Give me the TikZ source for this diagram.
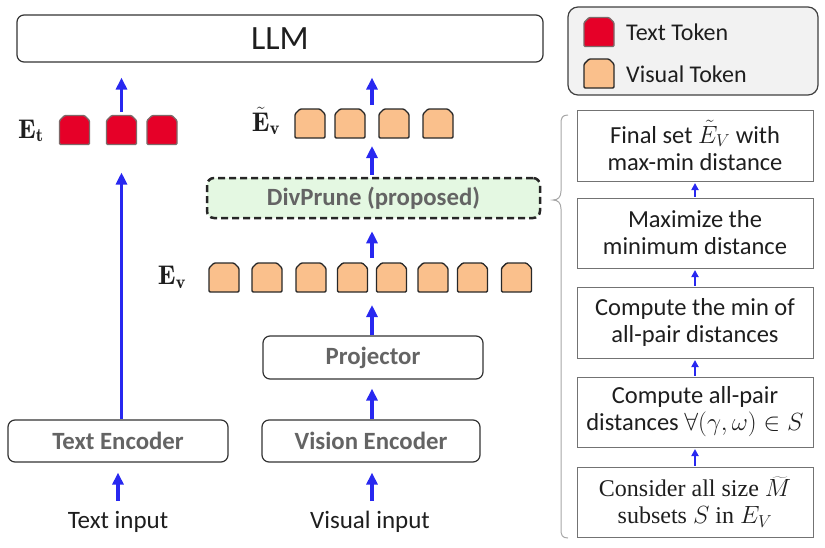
\documentclass[tikz,border=0pt]{standalone}
\usepackage{fontspec}
\newfontfamily\carl{Carlito}
\newfontfamily\lserif{Liberation Serif}
\usetikzlibrary{arrows.meta,calc}
\definecolor{arrblue}{RGB}{40,40,240}
\definecolor{tokred}{RGB}{230,0,40}
\definecolor{tokredb}{RGB}{125,105,105}
\definecolor{tokor}{RGB}{250,192,140}
\definecolor{tokorb}{RGB}{40,40,40}
\definecolor{greenfill}{RGB}{228,248,226}
\definecolor{legfill}{RGB}{242,242,242}
\definecolor{boldgray}{RGB}{100,100,100}
\definecolor{txt}{RGB}{30,30,30}
% token: name, x, y, colour style
\newcommand\tokn[4]{%
  \node[tokbox] (#1) at (#2,#3) {};
  \filldraw[#4, line width=1.4pt, rounded corners=1.2pt]
    (#1.south west) -- ([yshift=-5pt]#1.north west) -- ([xshift=5pt]#1.north west)
    -- ([xshift=-5pt]#1.north east) -- ([yshift=-5pt]#1.north east) -- (#1.south east) -- cycle;}
\begin{document}
\begin{tikzpicture}[x=1pt,y=-1pt,
  every node/.style={inner sep=0pt, text=txt},
  tokbox/.style={rectangle, draw=none, outer sep=0pt, minimum width=30pt, minimum height=29pt},
  redtok/.style={fill=tokred, draw=tokredb},
  ortok/.style={fill=tokor, draw=tokorb},
  mainbox/.style={draw=black!80, line width=1.2pt, rounded corners=7pt, fill=white},
  boldlbl/.style={font=\carl\bfseries\fontsize{24.8}{28}\selectfont, text=boldgray},
  stepbox/.style={draw=black!55, line width=1pt, minimum width=236pt, align=center,
    font=\carl\fontsize{24.5}{27}\selectfont},
  plain/.style={font=\carl\fontsize{25}{28}\selectfont},
  elbl/.style={font=\fontsize{27}{30}\selectfont},
  barr/.style={draw=arrblue, line width=3.5pt, -{Triangle[width=11pt,length=12pt]}},
  sarr/.style={draw=arrblue, line width=1.8pt, -{Triangle[width=7pt,length=7pt]}}
]
\useasboundingbox (0,0) rectangle (825,547);

% LLM
\node[mainbox, minimum width=526pt, minimum height=47pt, font=\carl\fontsize{34}{38}\selectfont] (llm) at (280,38.5) {LLM};

% legend
\node[draw=black!75, line width=1.2pt, rounded corners=10pt, fill=legfill, minimum width=250pt, minimum height=88pt] (legend) at (693,51) {};
\tokn{lt1}{599}{32}{redtok}
\tokn{lt2}{599}{73.5}{ortok}
\node[anchor=west, font=\carl\fontsize{24}{28}\selectfont] (lt1t) at (626,32) {Text Token};
\node[anchor=west, font=\carl\fontsize{24}{28}\selectfont] (lt2t) at (626,74) {Visual Token};

% E_t tokens
\node[elbl] (lEt) at (31,131) {$\mathbf{E}_{\mathbf{t}}$};
\tokn{et1}{74.5}{130}{redtok}
\tokn{et2}{121.5}{130}{redtok}
\tokn{et3}{162}{130}{redtok}

% tilde E_v tokens
\node[elbl] (lEvt) at (266,121) {$\tilde{\mathbf{E}}_{\mathbf{v}}$};
\tokn{vt1}{310}{123.5}{ortok}
\tokn{vt2}{350}{123.5}{ortok}
\tokn{vt3}{394}{123.5}{ortok}
\tokn{vt4}{438}{123.5}{ortok}

% DivPrune
\node[draw=black!85, line width=2.5pt, dash pattern=on 7pt off 4pt, rounded corners=7pt, fill=greenfill,
  minimum width=333pt, minimum height=40pt, boldlbl] (div) at (373.5,198) {DivPrune (proposed)};

% E_v tokens
\node[elbl] (lEv) at (172,277) {$\mathbf{E}_{\mathbf{v}}$};
\tokn{ev1}{224}{277.5}{ortok}
\tokn{ev2}{267}{277.5}{ortok}
\tokn{ev3}{311}{277.5}{ortok}
\tokn{ev4}{352.5}{277.5}{ortok}
\tokn{ev5}{391.5}{277.5}{ortok}
\tokn{ev6}{433}{277.5}{ortok}
\tokn{ev7}{472.5}{277.5}{ortok}
\tokn{ev8}{516.5}{277.5}{ortok}

% encoders
\node[mainbox, minimum width=220pt, minimum height=43pt, boldlbl] (proj) at (373,357.5) {Projector};
\node[mainbox, minimum width=218pt, minimum height=42pt, boldlbl] (venc) at (371,441) {Vision Encoder};
\node[mainbox, minimum width=220pt, minimum height=42pt, boldlbl] (tenc) at (118,441) {Text Encoder};
\node[plain] (tin) at (118,522) {Text input};
\node[plain] (vin) at (370,522) {Visual input};

% right panel
\node[stepbox, minimum height=71pt] (b1) at (695,145.5) {Final set $\tilde{E}_V$ with\\max-min distance};
\node[stepbox, minimum height=70pt] (b2) at (695,233) {Maximize the\\minimum distance};
\node[stepbox, minimum height=71pt] (b3) at (695,322.5) {Compute the min of\\all-pair distances};
\node[stepbox, minimum height=70pt] (b4) at (695,412) {Compute all-pair\\distances $\forall(\gamma,\omega)\in S$};
\node[stepbox, minimum height=70pt, font=\lserif\fontsize{24}{27}\selectfont] (b5) at (695,502) {Consider all size $\widetilde{M}$\\subsets $S$ in $E_V$};

% brace
\draw[black!35, line width=1pt] (568,115) .. controls (562,115) and (561,118) .. (561,124) -- (561,191)
  .. controls (561,197) and (558,200) .. (553,200) .. controls (558,200) and (561,203) .. (561,209)
  -- (561,529) .. controls (561,535) and (562,538) .. (568,538);

% coordinates
\coordinate (vtm) at ($(vt2.north)!0.5!(vt3.north)$);
\coordinate (evm) at ($(ev4.north)!0.5!(ev5.north)$);
\coordinate (evmb) at ($(ev4.south)!0.5!(ev5.south)$);

% arrows
\draw[barr, shorten <=4pt, shorten >=15pt] (et2.north) -- (et2.north |- llm.south);
\draw[barr, shorten <=4pt, shorten >=15pt] (vtm) -- (vtm |- llm.south);
\draw[barr, shorten <=2pt, shorten >=8pt] (div.north -| vtm) -- (vtm |- vt2.south);
\draw[barr, shorten <=5pt, shorten >=12pt] (evm) -- (evm |- div.south);
\draw[barr, shorten >=13pt] (proj.north -| evm) -- (evmb);
\draw[barr, shorten >=9pt] (venc.north -| evm) -- (evm |- proj.south);
\draw[barr, shorten >=28pt] (tenc.north -| et2) -- (et2.south);
\draw[barr, shorten <=10pt, shorten >=10pt] (tin.north -| tenc) -- (tenc.south);
\draw[barr, shorten <=10pt, shorten >=10pt] (vin.north -| evm) -- (evm |- venc.south);

\draw[sarr, shorten <=1pt, shorten >=1.5pt] (b2) -- (b1);
\draw[sarr, shorten <=1pt, shorten >=1.5pt] (b3) -- (b2);
\draw[sarr, shorten <=1pt, shorten >=1.5pt] (b4) -- (b3);
\draw[sarr, shorten <=1pt, shorten >=1.5pt] (b5) -- (b4);
\end{tikzpicture}
\end{document}
